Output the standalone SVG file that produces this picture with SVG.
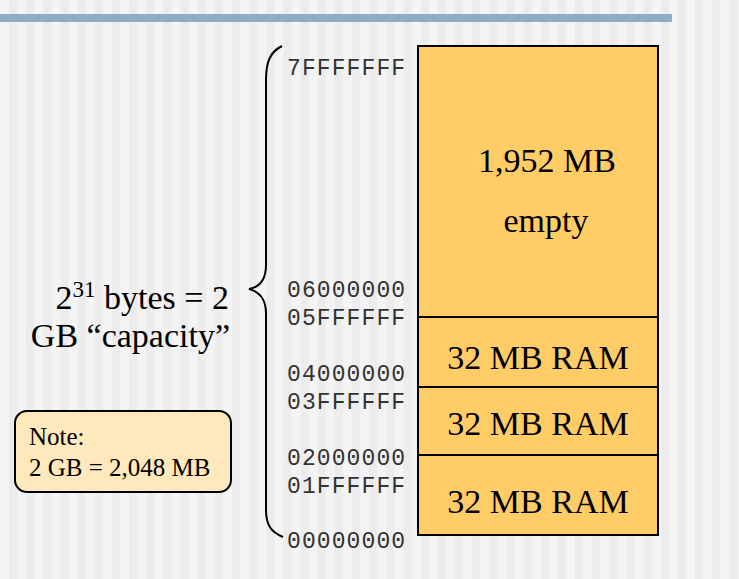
<svg xmlns="http://www.w3.org/2000/svg" width="739" height="579" viewBox="0 0 739 579">
<defs>
<pattern id="stripes" patternUnits="userSpaceOnUse" x="9" y="0" width="17.15" height="579">
<rect x="0" y="0" width="17.15" height="579" fill="#f4f4f4"/>
<rect x="0" y="0" width="8.2" height="579" fill="#ececec"/>
</pattern>
<style>
.serif{font-family:"Liberation Serif","Times New Roman",serif;fill:#000}
.mono{font-family:"Liberation Mono","Courier New",monospace;font-size:23px;fill:#333;letter-spacing:1.1px}
.big{font-size:34px}
.mem{fill:#ffcc66;stroke:#000;stroke-width:2}
</style>
</defs>
<rect x="0" y="0" width="739" height="579" fill="url(#stripes)"/>
<rect x="0" y="14" width="672" height="8" fill="#91abc5"/>

<g id="memory">
<rect class="mem" x="418" y="46" width="240" height="489"/>
<line x1="418" y1="317" x2="658" y2="317" stroke="#000" stroke-width="2"/>
<line x1="418" y1="387" x2="658" y2="387" stroke="#000" stroke-width="2"/>
<line x1="418" y1="455" x2="658" y2="455" stroke="#000" stroke-width="2"/>
</g>
<g id="empty-block">
<text class="serif big" x="547" y="172" text-anchor="middle">1,952 MB</text>
<text class="serif big" x="546" y="232" text-anchor="middle">empty</text>
</g>
<g id="ram3">
<text class="serif big" x="538" y="369" text-anchor="middle">32 MB RAM</text>
</g>
<g id="ram2">
<text class="serif big" x="538" y="435" text-anchor="middle">32 MB RAM</text>
</g>
<g id="ram1">
<text class="serif big" x="538" y="513" text-anchor="middle">32 MB RAM</text>
</g>

<g id="addresses">
<text class="mono" x="287" y="75">7FFFFFFF</text>
<text class="mono" x="287" y="297">06000000</text>
<text class="mono" x="287" y="325">05FFFFFF</text>
<text class="mono" x="287" y="381">04000000</text>
<text class="mono" x="287" y="409">03FFFFFF</text>
<text class="mono" x="287" y="465">02000000</text>
<text class="mono" x="287" y="493">01FFFFFF</text>
<text class="mono" x="287" y="548">00000000</text>
</g>

<g id="connectors">
<path d="M282,46 C270,52 266,62 266,80 L266,265 C266,280 260,287 249,289 C260,292 266,299 266,314 L266,510 C266,525 271,532 283,537" fill="none" stroke="#000" stroke-width="2"/>
</g>

<g id="capacity">
<text class="serif big" x="229" y="309" text-anchor="end">2<tspan font-size="23" dy="-12">31</tspan><tspan dy="12"> bytes = 2</tspan></text>
<text class="serif big" x="230" y="347" text-anchor="end">GB “capacity”</text>
</g>

<g id="note">
<rect x="15" y="411" width="216" height="81" rx="12" ry="12" fill="#ffe8bb" stroke="#000" stroke-width="2"/>
<text class="serif" font-size="25" x="29" y="445">Note:</text>
<text class="serif" font-size="25" x="29" y="476">2 GB = 2,048 MB</text>
</g>
</svg>
